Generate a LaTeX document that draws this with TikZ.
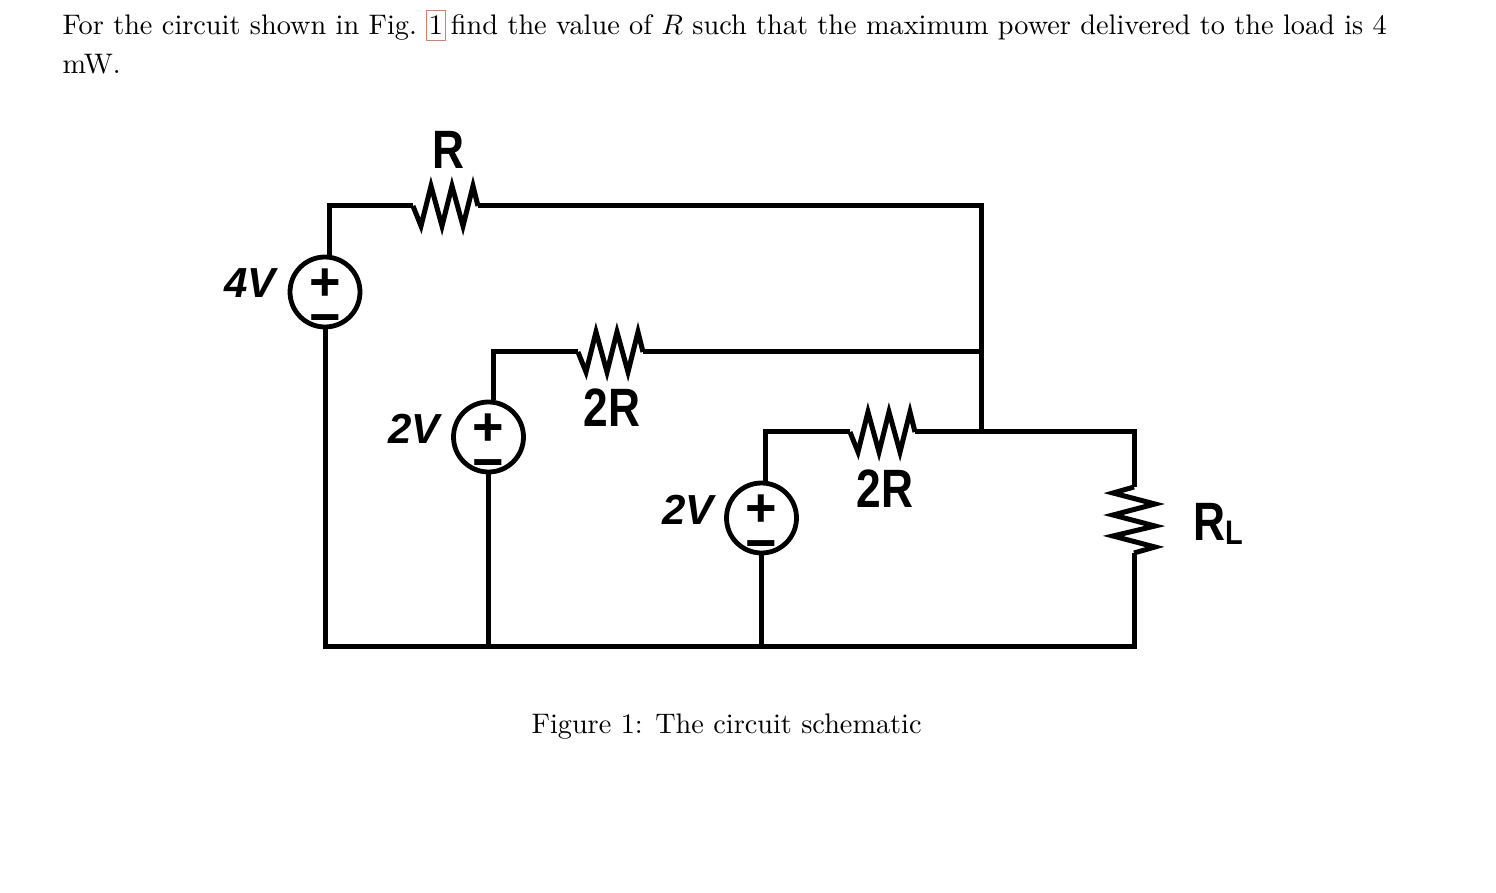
\documentclass[tikz,border=0pt]{standalone}
\usepackage{fontspec}
\usepackage{amsmath}
\usetikzlibrary{positioning, calc}
\newfontfamily\cktfont{Liberation Sans}
\definecolor{linkred}{RGB}{226,120,110}

\tikzset{
  hres/.pic={
    \draw[wire] (0,0) -- (8,20) -- (18,-20) -- (29,20) -- (39,-20) -- (50,20) -- (60,-20) -- (65,0);
    \coordinate (-in) at (0,0);
    \coordinate (-out) at (65,0);
  },
  vres/.pic={
    \draw[wire] (0,0) -- (-21,6) -- (21,17) -- (-21,28) -- (21,39) -- (-21,49) -- (21,60) -- (0,66);
    \coordinate (-in) at (0,0);
    \coordinate (-out) at (0,66);
  }
}

\begin{document}
\begin{tikzpicture}[x=0.5pt,y=-0.5pt,
  wire/.style={line width=2.5pt,line join=miter},
  src node/.style={circle,draw,line width=2.4pt,minimum size=35pt,inner sep=0pt},
  pm node/.style={inner sep=0pt,font=\cktfont\bfseries\fontsize{27}{20}\selectfont},
  volt node/.style={inner sep=0pt,font=\cktfont\bfseries\itshape\fontsize{21}{21}\selectfont},
  res node/.style={inner sep=0pt,xscale=.82,transform shape,font=\cktfont\bfseries\fontsize{27}{27}\selectfont},
  text node/.style={anchor=base west,inner sep=0pt,scale=1.413,transform shape,font=\fontsize{10}{12}\selectfont}]
  \useasboundingbox (0,0) rectangle (1496,893);
  % the text
  \node[text node] (line1) at (62,35) {For the circuit shown in Fig.};
  \node[text node,draw=linkred,line width=.4pt,inner xsep=1pt,inner ysep=2pt,right=4pt of line1.base east,anchor=base west] (ref) {1};
  \node[text node,right=2pt of ref.base east,anchor=base west] (line1b) {find the value of $R$ such that the maximum power delivered to the load is 4};
  \node[text node] (line2) at (62,74) {mW.};
  \node[text node] (caption) at (531,733) {Figure 1: The circuit schematic};
  % the sources
  \node[src node] (v1) at (325,292) {};
  \node[src node] (v2) at (488.5,437) {};
  \node[src node] (v3) at (761.5,518) {};
  \foreach \s in {v1,v2,v3} {
    \node[pm node] (\s p) at ($(\s)+(0,-7)$) {+};
    \node[pm node] (\s m) at ($(\s)+(0,33)$) {−};
  }
  \node[volt node] (v1l) at (250,283) {4V};
  \node[volt node] (v2l) at (414,429) {2V};
  \node[volt node] (v3l) at (688,510) {2V};
  % the resistors
  \pic (r1) at (413,206) {hres};
  \pic (r2) at (578,352) {hres};
  \pic (r3) at (850,432) {hres};
  \pic (rl) at (1134,487) {vres};
  \node[res node] (r1l) at (448,150) {R};
  \node[res node] (r2l) at (612,408) {2R};
  \node[res node] (r3l) at (885,489) {2R};
  \node[inner sep=0pt,font=\cktfont\bfseries] (rll) at (1218,524) {\scalebox{.82}[1]{\fontsize{27}{27}\selectfont R}\raisebox{-2pt}{\scalebox{.85}[1]{\fontsize{17}{17}\selectfont L}}};
  % the wires
  \coordinate (c1) at (329,206);
  \coordinate (c2) at (493,352);
  \coordinate (c3) at (765,432);
  \coordinate (j1) at (981,206);
  \coordinate (j2) at (981,352);
  \coordinate (j3) at (981,432);
  \coordinate (br) at (1134,432);
  \coordinate (bl) at (325,646);
  \coordinate (bb) at (1134,646);
  \draw[wire] (c1 |- v1.north) -- (c1) -- (r1-in);
  \draw[wire] (r1-out) -- (j1) -- (j3);
  \draw[wire] (c2 |- v2.north) -- (c2) -- (r2-in);
  \draw[wire] (r2-out) -- (j2);
  \draw[wire] (c3 |- v3.north) -- (c3) -- (r3-in);
  \draw[wire] (r3-out) -- (br) -- (rl-in);
  \draw[wire] (rl-out) -- (bb) -- (bl) -- (v1.south);
  \draw[wire] (v2.south) -- (v2.south |- bl);
  \draw[wire] (v3.south) -- (v3.south |- bl);
\end{tikzpicture}
\end{document}
